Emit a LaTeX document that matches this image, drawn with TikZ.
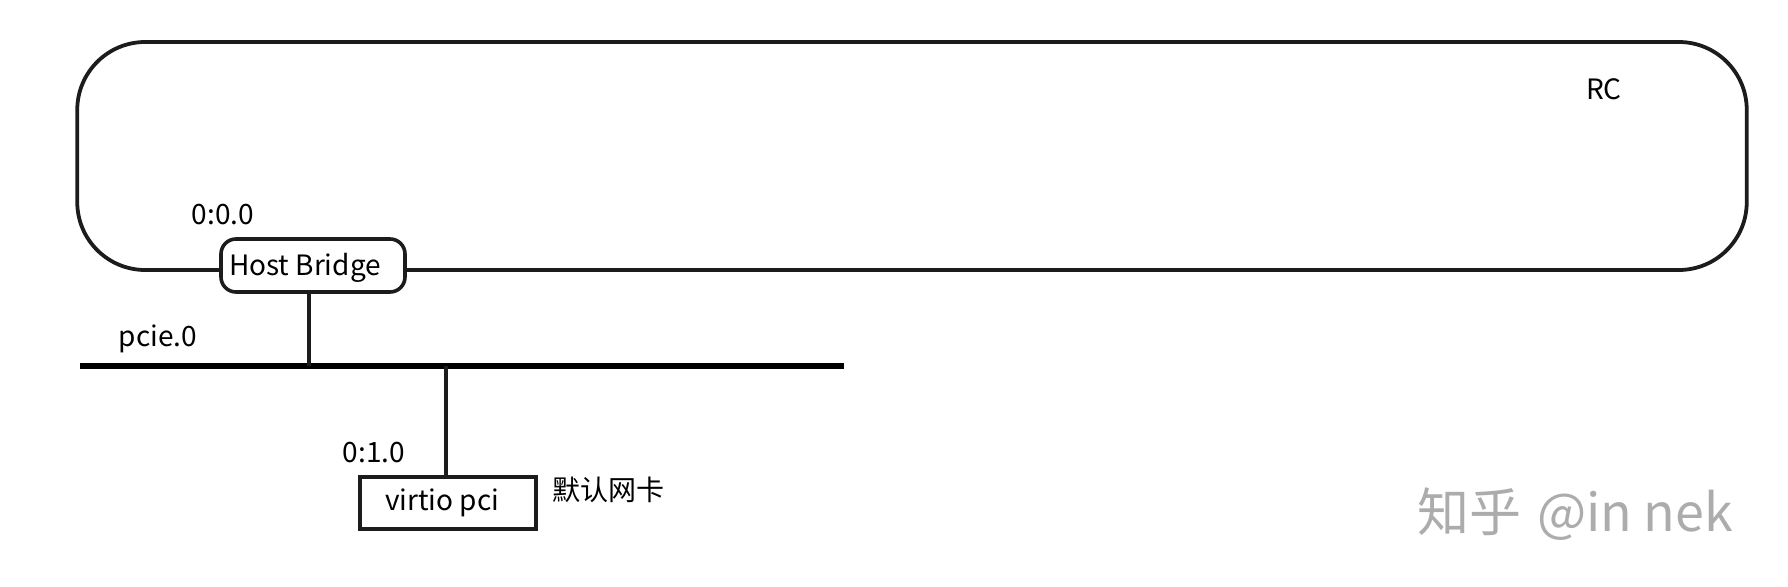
\documentclass[tikz,border=0pt]{standalone}
\usepackage{fontspec}
\setmainfont{Noto Sans CJK SC}
\definecolor{ln}{RGB}{28,28,28}
\definecolor{wm}{RGB}{172,172,172}
\begin{document}
\begin{tikzpicture}[x=0.5pt,y=-0.5pt,
  lbl/.style={inner sep=0pt, text=black, font=\fontsize{14pt}{16pt}\selectfont},
  rcbox/.style={draw=ln, line width=1.9pt, rounded corners=34pt},
  hbbox/.style={draw=ln, line width=1.8pt, rounded corners=7.5pt, fill=white, inner sep=0pt,
                font=\fontsize{14pt}{16pt}\selectfont},
  devbox/.style={draw=ln, line width=1.8pt, fill=white, inner sep=0pt,
                font=\fontsize{14pt}{16pt}\selectfont},
  wire/.style={draw=ln, line width=1.7pt},
  busline/.style={draw=black, line width=2.8pt}]
\useasboundingbox (0,0) rectangle (1788,587);
% Root complex
\node[rcbox, minimum width=834.75pt, minimum height=114pt] (rc) at (912,156) {};
\node[lbl, anchor=base] (rclbl) at (1604,100) {RC};
% Host bridge
\node[lbl, anchor=base] (hbaddr) at (223,225) {0:0.0};
\node[hbbox, minimum width=92pt, minimum height=26.5pt] (hb) at (313,265.5) {\hspace*{-8pt}\smash{\raisebox{-5.2pt}{Host Bridge}}};
% bus
\coordinate (busL) at (80,366);
\coordinate (busR) at (844,366);
\draw[busline] (busL) -- (busR);
\node[lbl, anchor=base] (buslbl) at (158,347) {pcie.0};
\coordinate (hbtap) at (309,366);
\draw[wire] (hb.south -| hbtap) -- (hbtap);
% virtio device
\node[devbox, minimum width=88pt, minimum height=26pt] (vio) at (448,503) {\hspace*{-6pt}virtio pci};
\coordinate (viotap) at (446,366);
\draw[wire] (viotap) -- (vio.north -| viotap);
\node[lbl, anchor=base] (vioaddr) at (374,463) {0:1.0};
\node[lbl, anchor=west] (violbl) at (552,489.5) {默认网卡};
% watermark
\node[inner sep=0pt, text=wm, font=\fontsize{26pt}{30pt}\selectfont, anchor=west] (wmk) at (1417,514) {知乎\hspace{2pt} @in nek};
\end{tikzpicture}
\end{document}
